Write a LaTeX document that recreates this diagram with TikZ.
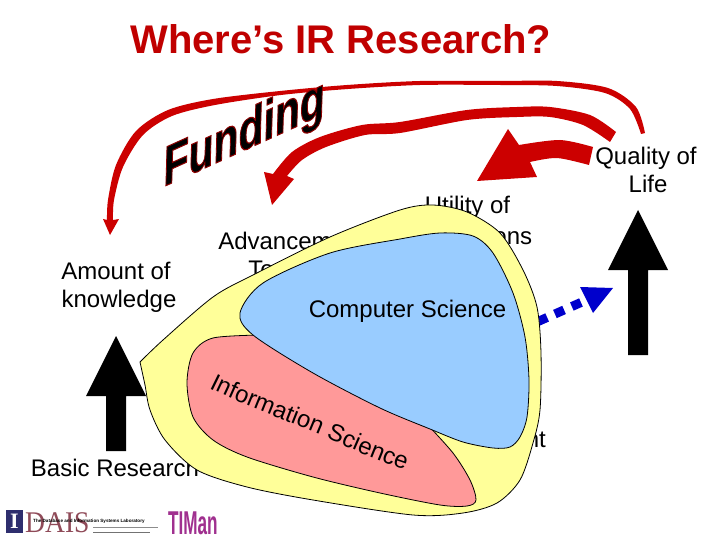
\documentclass[tikz,border=0pt]{standalone}
\usepackage{fontspec}
\setmainfont{Liberation Sans}
\newfontface\fundfont{Liberation Sans Bold}[FakeBold=2]
\newfontfamily\serifdais{Liberation Serif}
\usetikzlibrary{decorations.text}
\definecolor{ttl}{HTML}{C00000}
\definecolor{arrred}{HTML}{CC0000}
\definecolor{yel}{HTML}{FFFF99}
\definecolor{sky}{HTML}{99CCFF}
\definecolor{pnk}{HTML}{FF9999}
\definecolor{bluarr}{HTML}{0000CC}
\definecolor{navy}{HTML}{2E2E6E}
\definecolor{dais}{HTML}{8F4A58}
\definecolor{timan}{HTML}{A0308F}
\tikzset{
  lbl/.style={font=\fontsize{24}{28}\selectfont,align=center,inner sep=0pt,anchor=base,text=black},
  blob/.style={draw=black,line width=0.8pt},
  redfill/.style={fill=arrred,draw=none},
  blackarrow/.style={fill=black,draw=none},
}
\begin{document}
\begin{tikzpicture}[x=1pt,y=-1pt]
\path[use as bounding box,fill=white] (0,0) rectangle (720,540);
% title
\node[font=\bfseries\fontsize{40}{44}\selectfont,text=ttl,anchor=base,inner sep=0pt] (title) at (341,54) {Where’s IR Research?};
% labels lying under the blob
\node[lbl] (amount) at (116,279) {Amount of};
\node[lbl] (amount2) at (119,307) {knowledge};
\node[lbl] (basic) at (115,476) {Basic Research};
\node[lbl] (adv) at (305,249) {Advancement of};
\node[lbl] (tech) at (309,277) {Technology};
\node[lbl] (util) at (467.5,214) {Utility of};
\node[lbl] (appl) at (467.5,244) {Applications};
\node[lbl,anchor=base east] (dev) at (546,447) {Development};
\node[lbl] (qual) at (646,165) {Quality of};
\node[lbl] (life) at (648,193) {Life};
% black arrows
\fill[blackarrow] (116,336) -- (146,396) -- (126,396) -- (126,451) -- (106,451) -- (106,396) -- (86,396) -- cycle;
\fill[blackarrow] (638,210) -- (668,270) -- (648,270) -- (648,355) -- (628,355) -- (628,270) -- (608,270) -- cycle;
% blue dashed arrow
\coordinate (bs) at (538,321.5);
\coordinate (be) at (582,302);
\draw[bluarr,line width=9pt,dash pattern=on 10pt off 8.5pt] (bs) -- (be);
\fill[bluarr] (580,287) -- (613,288) -- (593,313) -- cycle;
% red arrows
\fill[redfill] plot[smooth] coordinates {(645,133) (636,107) (608,88) (557,81) (500,81) (420,81) (347,85) (280,91) (213,99) (168,110) (136,131) (116,165) (108,200) (107,220)}
  -- (103,219) -- (110,235) -- (119,219) -- (113,220)
  -- plot[smooth] coordinates {(113,220) (114,200) (123,167) (143,135) (172,116) (215,105) (281,95) (348,89) (420,85) (500,85) (557,86) (605,93) (630,109) (641,134)} -- cycle;
\fill[redfill] plot[smooth] coordinates {(616,132) (590,115) (550,107) (517,107) (467,110) (400,122) (362,125) (320,137) (292,152) (273,174)}
  -- (264,172) -- (272,205) -- (294,179) -- (287,176)
  -- plot[smooth] coordinates {(287,176) (302,160) (326,147) (365,135) (400,133) (467,120) (517,117) (550,117) (583,125) (610,142)} -- cycle;
\fill[redfill] plot[smooth] coordinates {(593,147) (560,140) (519,145)}
  -- (508,129) -- (477,181) -- (537,177) -- (530,162)
  -- plot[smooth] coordinates {(530,162) (557,158) (589,165)} -- cycle;
% Funding
\node[anchor=base west,inner sep=0pt,xscale=0.73,yslant=0.33,xslant=0.04,font=\fundfont\fontsize{56}{56}\selectfont,text=black] (funding) at (163,187) {\special{pdf:code 0.55 0 0 RG}Funding};
% blobs
\path[blob,fill=yel] plot[smooth] coordinates {(140,362) (163,340) (213,297) (253,275) (330,237) (400,210) (433,205) (467,212) (500,233) (523,270) (537,307) (541,353) (540,410) (533,443) (520,480) (497,503) (463,513) (413,515) (313,500) (247,487) (197,470) (165,440) (150,410) (145,385) (140,362)} -- cycle;
\path[blob,fill=pnk] plot[smooth] coordinates {(262,335) (213,338) (193,353) (187,383) (193,417) (213,440) (247,457) (313,477) (380,493) (440,505) (467,506) (476,500) (470,480) (453,453) (425,422)} -- cycle;
\path[blob,fill=sky] plot[smooth cycle] coordinates {(240,313) (263,283) (330,253) (400,239) (440,233) (473,236) (493,253) (513,293) (525,337) (529,380) (527,417) (520,437) (510,447) (493,448) (463,442) (430,429) (380,408) (313,373) (253,335)};
\node[lbl] (cs) at (407.5,317) {Computer Science};
\path[decorate,decoration={text along path,text={|\fontsize{24}{24}\selectfont|Information Science},text align={fit to path}}] (209pt,-388pt) .. controls (245pt,-406pt) and (285pt,-420pt) .. (318pt,-434pt) .. controls (345pt,-446pt) and (375pt,-460pt) .. (405pt,-470pt);
% logo
\fill[navy] (6,510) rectangle (23,533);
\node[inner sep=0pt,text=white,font=\serifdais\bfseries\fontsize{22}{22}\selectfont] (ilogo) at (14.5,521.5) {I};
\node[inner sep=0pt,anchor=base west,text=dais,xscale=0.92,font=\serifdais\fontsize{30}{30}\selectfont] (daislogo) at (25,532) {DAIS};
\node[inner sep=0pt,anchor=west,text=black,font=\bfseries\fontsize{4.6}{5}\selectfont] (dbs) at (33,521) {The Database and Information Systems Laboratory};
\fill[black!45] (93,526.5) rectangle (158,527.5);
\fill[black!55] (93,531.5) rectangle (150,532.5);
\node[inner sep=0pt,anchor=base west,text=timan,xscale=0.52,font=\bfseries\fontsize{33}{33}\selectfont] (timanlogo) at (168,534) {TIMan};
\end{tikzpicture}
\end{document}
